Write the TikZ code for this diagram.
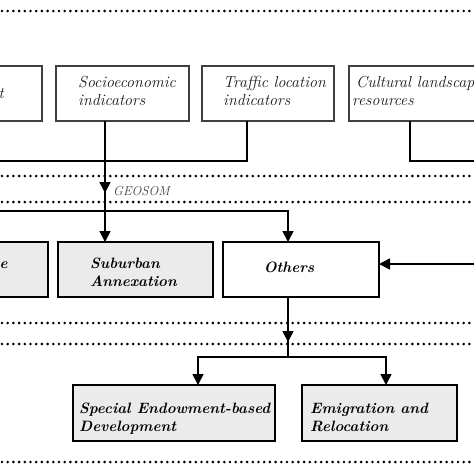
\documentclass[tikz,border=0pt]{standalone}
\usetikzlibrary{arrows.meta}
\begin{document}
\begin{tikzpicture}[x=1pt,y=-1pt,
  tbox/.style={draw=black!75, line width=1.2pt, inner sep=0, outer sep=0},
  gbox/.style={draw=black, line width=1.9pt, fill=black!8, inner sep=0, outer sep=0},
  wbox/.style={draw=black, line width=1.9pt, fill=white, inner sep=0, outer sep=0},
  conn/.style={line width=1.7pt, draw=black},
  tip/.style={-{Triangle[width=11pt,length=11pt]}},
  dotline/.style={line width=2.9pt, dash pattern=on 0pt off 5.7pt, line cap=round},
  ttext/.style={font=\fontsize{16}{18}\selectfont\itshape, align=left, inner sep=0, anchor=north west, text=black!90},
  btext/.style={font=\fontsize{15}{18}\selectfont\bfseries\itshape, align=left, inner sep=0, anchor=north west},
  gtext/.style={font=\fontsize{13}{15}\selectfont\itshape, inner sep=0, anchor=base west, text=black!75}
]
\useasboundingbox (0,0) rectangle (474,474);
\clip (0,0) rectangle (474,474);

% dotted separators
\foreach \yy in {11,176,202,323,344,462}
  \draw[dotline] (2,\yy) -- (474,\yy);

% top row
\node[tbox, minimum width=132pt, minimum height=55pt] (lt) at (-24,93.5) {};
\node[tbox, minimum width=133pt, minimum height=55pt] (soc) at (122.5,93.5) {};
\node[tbox, minimum width=132pt, minimum height=55pt] (traf) at (268,93.5) {};
\node[tbox, minimum width=131pt, minimum height=55pt] (cult) at (414.5,93.5) {};
\node[ttext, anchor=base west] (ltT) at (-1.5,98) {t};
\node[ttext] (socT) at (78,74.4) {\strut Socioeconomic\\indicators};
\node[ttext] (trafT) at (223,74.4) {\strut Traffic location\\indicators};
\node[ttext] (cultT) at (352,74.4) {\strut\hspace*{4pt}Cultural landscape\\resources};

% middle row
\node[gbox, minimum width=148pt, minimum height=55pt] (lm) at (-26,269.5) {};
\node[gbox, minimum width=155pt, minimum height=55pt] (sub) at (135.5,269.5) {};
\node[wbox, minimum width=156pt, minimum height=55pt] (oth) at (301,269.5) {};
\node[btext, anchor=base west] (lmT) at (-0.5,268) {e};
\node[btext] (subT) at (90,255.4) {\strut Suburban\\Annexation};
\node[btext, anchor=base] (othT) at (289,272) {Others};

% bottom row
\node[gbox, minimum width=202pt, minimum height=56pt] (spec) at (174,413) {};
\node[gbox, minimum width=155pt, minimum height=56pt] (emig) at (379.5,413) {};
\node[btext] (specT) at (79,400.4) {\strut Special Endowment-based\\Development};
\node[btext] (emigT) at (310,400.4) {\strut Emigration and\\Relocation};

% connectors
\coordinate (geo) at (105,193);
\coordinate (lft1) at (-20,161);
\coordinate (lft2) at (-20,211);
\coordinate (rgt1) at (490,161);
\coordinate (rgt2) at (490,264);
\coordinate (mid) at (288,342);
\coordinate (split) at (288,357);

\draw[conn, tip] ([xshift=49pt]soc.south west) -- ([xshift=47pt]sub.north west);
\draw[conn, tip] ([xshift=49pt]soc.south west) -- (geo);
\node[gtext] (geoT) at (113,195) {GEOSOM};

\draw[conn, tip] ([xshift=45pt]traf.south west) |- (lft1) -- (lft2) -| ([xshift=65pt]oth.north west);
\draw[conn, tip] ([xshift=61pt]cult.south west) |- (rgt1) -- (rgt2) -- ([yshift=5.5pt]oth.east);

\draw[conn] ([xshift=65pt]oth.south west) -- (split);
\draw[conn, tip] ([xshift=65pt]oth.south west) -- (mid);
\draw[conn, tip] (split) -| ([xshift=125pt]spec.north west);
\draw[conn, tip] (split) -| ([xshift=84pt]emig.north west);
\end{tikzpicture}
\end{document}
